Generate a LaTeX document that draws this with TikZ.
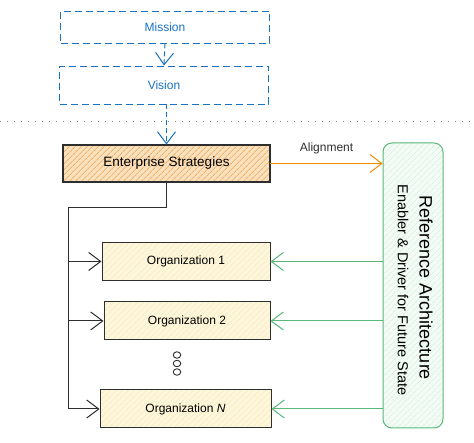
\documentclass[tikz,border=0pt]{standalone}
\usepackage{fontspec}
\setmainfont{Liberation Sans}
\usetikzlibrary{arrows.meta,patterns.meta,shapes.geometric}
\definecolor{mblue}{HTML}{1971C2}
\definecolor{morange}{HTML}{F08C00}
\definecolor{mgreen}{HTML}{5AB878}
\definecolor{mdark}{HTML}{2E2E2E}
\begin{document}
\begin{tikzpicture}
	[x=1pt,y=-1pt,
	every node/.style={font=\fontsize{12}{14}\selectfont,inner sep=0pt},
	dashbox/.style={draw=mblue,dash pattern=on 7pt off 4pt,line width=0.9pt,text=mblue,minimum width=209pt},
	strat/.style={draw=mdark,line width=1.1pt,preaction={fill={rgb,255:red,250;green,225;blue,190}},
		pattern={Lines[angle=45,distance=4pt,line width=0.9pt]},pattern color={rgb,255:red,240;green,178;blue,108},minimum width=207pt,minimum height=37pt},
	org/.style={draw=mdark,line width=1pt,preaction={fill={rgb,255:red,253;green,246;blue,218}},
		pattern={Lines[angle=45,distance=4pt,line width=0.6pt]},pattern color={rgb,255:red,245;green,232;blue,180},minimum height=38pt},
	refbox/.style={draw=mgreen,line width=1pt,rounded corners=9pt,preaction={fill={rgb,255:red,243;green,251;blue,245}},
		pattern={Lines[angle=45,distance=4pt,line width=0.6pt]},pattern color={rgb,255:red,210;green,237;blue,218}},
	link/.style={-{Straight Barb[length=12pt,width=18pt]},line width=1pt},]
	\useasboundingbox (0,0) rectangle (474,443);
	% mission and vision
	\node[dashbox,minimum height=32pt] (mission) at (165,27) {Mission};
	\node[dashbox,minimum height=38pt] (vision) at (164,85) {Vision};
	\draw[line width=1pt,gray,dash pattern=on 1pt off 6pt] (0,122) -- (474,122);
	% strategy and architecture
	\node[strat] (strategy) at (166.5,163.5) {\fontsize{13.5}{15}\selectfont Enterprise Strategies};
	\node[refbox,minimum width=60pt,minimum height=285pt] (refarch) at (413,285.5) {};
	\node[rotate=-90,font=\fontsize{18}{20}\selectfont] (reftitle) at (426,288) {Reference Architecture};
	\node[rotate=-90,font=\fontsize{14.5}{16}\selectfont] (refsub) at (403,290) {Enabler \& Driver for Future State};
	% organizations
	\node[org,minimum width=168pt] (org1) at (186,261.5) {Organization 1};
	\node[org,minimum width=166pt] (org2) at (187,321) {Organization 2};
	\node[org,minimum width=171pt] (orgN) at (185.5,409) {Organization \textit{N}};
	\foreach \y/\n in {355/a,363.5/b,372/c}
		\node[draw=mdark,line width=0.9pt,ellipse,minimum width=7.5pt,minimum height=6.5pt] (dot\n) at (177,\y) {};
	% connectors
	\draw[link,mblue,dash pattern=on 5pt off 3pt] (mission.south) -- (vision.north);
	\draw[link,mblue,dash pattern=on 5pt off 3pt] (vision.south -| strategy.north) -- (strategy.north);
	\draw[link,morange] (strategy.east) -- (strategy.east -| refarch.west)
		node[midway,above=9pt,text=mdark] (align) {Alignment};
	\coordinate (trunk) at (68,207);
	\draw[mdark,line width=0.9pt] (strategy.south) |- (trunk) -- (trunk |- orgN.west);
	\foreach \o in {org1,org2,orgN}
	{
		\draw[link,mdark] (trunk |- \o.west) -- (\o.west);
		\draw[link,mgreen] (refarch.west |- \o.east) -- (\o.east);
	}
\end{tikzpicture}
\end{document}
